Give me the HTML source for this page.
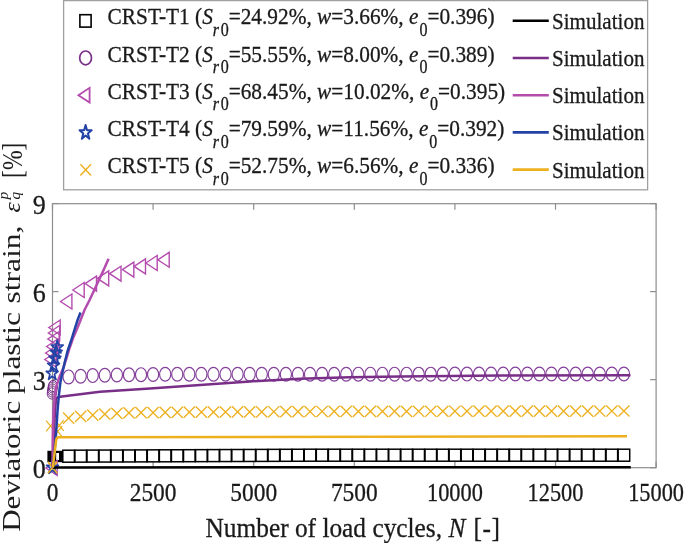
<!DOCTYPE html>
<html><head><meta charset="utf-8"><style>html,body{margin:0;padding:0;background:#fff;}svg{display:block;}text{stroke:#1a1a1a;stroke-width:0.3px;}g.ny text{stroke:none;}</style></head>
<body><svg width="685" height="543" viewBox="0 0 685 543" font-family='"Liberation Serif", "Times New Roman", serif'><g>
<rect x="52.5" y="203.7" width="603.6" height="264" fill="#fff" stroke="#8e8e8e" stroke-width="1.2"/>
<line x1="52.50" y1="467.7" x2="52.50" y2="461.7" stroke="#8e8e8e" stroke-width="1.2"/>
<line x1="52.50" y1="203.7" x2="52.50" y2="209.7" stroke="#8e8e8e" stroke-width="1.2"/>
<line x1="153.10" y1="467.7" x2="153.10" y2="461.7" stroke="#8e8e8e" stroke-width="1.2"/>
<line x1="153.10" y1="203.7" x2="153.10" y2="209.7" stroke="#8e8e8e" stroke-width="1.2"/>
<line x1="253.70" y1="467.7" x2="253.70" y2="461.7" stroke="#8e8e8e" stroke-width="1.2"/>
<line x1="253.70" y1="203.7" x2="253.70" y2="209.7" stroke="#8e8e8e" stroke-width="1.2"/>
<line x1="354.30" y1="467.7" x2="354.30" y2="461.7" stroke="#8e8e8e" stroke-width="1.2"/>
<line x1="354.30" y1="203.7" x2="354.30" y2="209.7" stroke="#8e8e8e" stroke-width="1.2"/>
<line x1="454.90" y1="467.7" x2="454.90" y2="461.7" stroke="#8e8e8e" stroke-width="1.2"/>
<line x1="454.90" y1="203.7" x2="454.90" y2="209.7" stroke="#8e8e8e" stroke-width="1.2"/>
<line x1="555.50" y1="467.7" x2="555.50" y2="461.7" stroke="#8e8e8e" stroke-width="1.2"/>
<line x1="555.50" y1="203.7" x2="555.50" y2="209.7" stroke="#8e8e8e" stroke-width="1.2"/>
<line x1="656.10" y1="467.7" x2="656.10" y2="461.7" stroke="#8e8e8e" stroke-width="1.2"/>
<line x1="656.10" y1="203.7" x2="656.10" y2="209.7" stroke="#8e8e8e" stroke-width="1.2"/>
<line x1="52.5" y1="467.70" x2="58.5" y2="467.70" stroke="#8e8e8e" stroke-width="1.2"/>
<line x1="656.1" y1="467.70" x2="650.1" y2="467.70" stroke="#8e8e8e" stroke-width="1.2"/>
<line x1="52.5" y1="379.65" x2="58.5" y2="379.65" stroke="#8e8e8e" stroke-width="1.2"/>
<line x1="656.1" y1="379.65" x2="650.1" y2="379.65" stroke="#8e8e8e" stroke-width="1.2"/>
<line x1="52.5" y1="291.60" x2="58.5" y2="291.60" stroke="#8e8e8e" stroke-width="1.2"/>
<line x1="656.1" y1="291.60" x2="650.1" y2="291.60" stroke="#8e8e8e" stroke-width="1.2"/>
<line x1="52.5" y1="203.55" x2="58.5" y2="203.55" stroke="#8e8e8e" stroke-width="1.2"/>
<line x1="656.1" y1="203.55" x2="650.1" y2="203.55" stroke="#8e8e8e" stroke-width="1.2"/>
<rect x="47.4" y="450.8" width="15.5" height="11.4" fill="#000"/>
<rect x="56.2" y="453.0" width="2.8" height="7.0" fill="#fff"/>
<rect x="62.80" y="450.20" width="11.60" height="12.00" fill="none" stroke="#000000" stroke-width="1.5"/>
<rect x="74.87" y="450.15" width="11.60" height="12.00" fill="none" stroke="#000000" stroke-width="1.5"/>
<rect x="86.94" y="450.10" width="11.60" height="12.00" fill="none" stroke="#000000" stroke-width="1.5"/>
<rect x="99.01" y="450.05" width="11.60" height="12.00" fill="none" stroke="#000000" stroke-width="1.5"/>
<rect x="111.08" y="450.00" width="11.60" height="12.00" fill="none" stroke="#000000" stroke-width="1.5"/>
<rect x="123.16" y="449.95" width="11.60" height="12.00" fill="none" stroke="#000000" stroke-width="1.5"/>
<rect x="135.23" y="449.90" width="11.60" height="12.00" fill="none" stroke="#000000" stroke-width="1.5"/>
<rect x="147.30" y="449.85" width="11.60" height="12.00" fill="none" stroke="#000000" stroke-width="1.5"/>
<rect x="159.37" y="449.80" width="11.60" height="12.00" fill="none" stroke="#000000" stroke-width="1.5"/>
<rect x="171.44" y="449.75" width="11.60" height="12.00" fill="none" stroke="#000000" stroke-width="1.5"/>
<rect x="183.52" y="449.70" width="11.60" height="12.00" fill="none" stroke="#000000" stroke-width="1.5"/>
<rect x="195.59" y="449.65" width="11.60" height="12.00" fill="none" stroke="#000000" stroke-width="1.5"/>
<rect x="207.66" y="449.60" width="11.60" height="12.00" fill="none" stroke="#000000" stroke-width="1.5"/>
<rect x="219.73" y="449.55" width="11.60" height="12.00" fill="none" stroke="#000000" stroke-width="1.5"/>
<rect x="231.80" y="449.50" width="11.60" height="12.00" fill="none" stroke="#000000" stroke-width="1.5"/>
<rect x="243.88" y="449.45" width="11.60" height="12.00" fill="none" stroke="#000000" stroke-width="1.5"/>
<rect x="255.95" y="449.40" width="11.60" height="12.00" fill="none" stroke="#000000" stroke-width="1.5"/>
<rect x="268.02" y="449.35" width="11.60" height="12.00" fill="none" stroke="#000000" stroke-width="1.5"/>
<rect x="280.09" y="449.30" width="11.60" height="12.00" fill="none" stroke="#000000" stroke-width="1.5"/>
<rect x="292.16" y="449.25" width="11.60" height="12.00" fill="none" stroke="#000000" stroke-width="1.5"/>
<rect x="304.24" y="449.20" width="11.60" height="12.00" fill="none" stroke="#000000" stroke-width="1.5"/>
<rect x="316.31" y="449.20" width="11.60" height="12.00" fill="none" stroke="#000000" stroke-width="1.5"/>
<rect x="328.38" y="449.20" width="11.60" height="12.00" fill="none" stroke="#000000" stroke-width="1.5"/>
<rect x="340.45" y="449.20" width="11.60" height="12.00" fill="none" stroke="#000000" stroke-width="1.5"/>
<rect x="352.52" y="449.20" width="11.60" height="12.00" fill="none" stroke="#000000" stroke-width="1.5"/>
<rect x="364.60" y="449.20" width="11.60" height="12.00" fill="none" stroke="#000000" stroke-width="1.5"/>
<rect x="376.67" y="449.20" width="11.60" height="12.00" fill="none" stroke="#000000" stroke-width="1.5"/>
<rect x="388.74" y="449.20" width="11.60" height="12.00" fill="none" stroke="#000000" stroke-width="1.5"/>
<rect x="400.81" y="449.20" width="11.60" height="12.00" fill="none" stroke="#000000" stroke-width="1.5"/>
<rect x="412.88" y="449.20" width="11.60" height="12.00" fill="none" stroke="#000000" stroke-width="1.5"/>
<rect x="424.96" y="449.20" width="11.60" height="12.00" fill="none" stroke="#000000" stroke-width="1.5"/>
<rect x="437.03" y="449.20" width="11.60" height="12.00" fill="none" stroke="#000000" stroke-width="1.5"/>
<rect x="449.10" y="449.20" width="11.60" height="12.00" fill="none" stroke="#000000" stroke-width="1.5"/>
<rect x="461.17" y="449.20" width="11.60" height="12.00" fill="none" stroke="#000000" stroke-width="1.5"/>
<rect x="473.24" y="449.20" width="11.60" height="12.00" fill="none" stroke="#000000" stroke-width="1.5"/>
<rect x="485.32" y="449.20" width="11.60" height="12.00" fill="none" stroke="#000000" stroke-width="1.5"/>
<rect x="497.39" y="449.20" width="11.60" height="12.00" fill="none" stroke="#000000" stroke-width="1.5"/>
<rect x="509.46" y="449.20" width="11.60" height="12.00" fill="none" stroke="#000000" stroke-width="1.5"/>
<rect x="521.53" y="449.20" width="11.60" height="12.00" fill="none" stroke="#000000" stroke-width="1.5"/>
<rect x="533.60" y="449.20" width="11.60" height="12.00" fill="none" stroke="#000000" stroke-width="1.5"/>
<rect x="545.68" y="449.20" width="11.60" height="12.00" fill="none" stroke="#000000" stroke-width="1.5"/>
<rect x="557.75" y="449.20" width="11.60" height="12.00" fill="none" stroke="#000000" stroke-width="1.5"/>
<rect x="569.82" y="449.20" width="11.60" height="12.00" fill="none" stroke="#000000" stroke-width="1.5"/>
<rect x="581.89" y="449.20" width="11.60" height="12.00" fill="none" stroke="#000000" stroke-width="1.5"/>
<rect x="593.96" y="449.20" width="11.60" height="12.00" fill="none" stroke="#000000" stroke-width="1.5"/>
<rect x="606.04" y="449.20" width="11.60" height="12.00" fill="none" stroke="#000000" stroke-width="1.5"/>
<rect x="618.11" y="449.20" width="11.60" height="12.00" fill="none" stroke="#000000" stroke-width="1.5"/>
<ellipse cx="51.80" cy="393.50" rx="4.6" ry="5.6" fill="none" stroke="#792F88" stroke-width="1.0"/>
<ellipse cx="52.10" cy="391.50" rx="4.6" ry="5.6" fill="none" stroke="#792F88" stroke-width="1.0"/>
<ellipse cx="52.40" cy="389.50" rx="4.6" ry="5.6" fill="none" stroke="#792F88" stroke-width="1.0"/>
<ellipse cx="52.70" cy="387.50" rx="4.6" ry="5.6" fill="none" stroke="#792F88" stroke-width="1.0"/>
<ellipse cx="53.00" cy="386.00" rx="4.6" ry="5.6" fill="none" stroke="#792F88" stroke-width="1.0"/>
<ellipse cx="68.60" cy="376.90" rx="5.6" ry="6.9" fill="none" stroke="#84409A" stroke-width="1.2"/>
<ellipse cx="80.67" cy="376.20" rx="5.6" ry="6.9" fill="none" stroke="#84409A" stroke-width="1.2"/>
<ellipse cx="92.74" cy="375.60" rx="5.6" ry="6.9" fill="none" stroke="#84409A" stroke-width="1.2"/>
<ellipse cx="104.81" cy="375.30" rx="5.6" ry="6.9" fill="none" stroke="#84409A" stroke-width="1.2"/>
<ellipse cx="116.88" cy="375.00" rx="5.6" ry="6.9" fill="none" stroke="#84409A" stroke-width="1.2"/>
<ellipse cx="128.96" cy="374.82" rx="5.6" ry="6.9" fill="none" stroke="#84409A" stroke-width="1.2"/>
<ellipse cx="141.03" cy="374.65" rx="5.6" ry="6.9" fill="none" stroke="#84409A" stroke-width="1.2"/>
<ellipse cx="153.10" cy="374.48" rx="5.6" ry="6.9" fill="none" stroke="#84409A" stroke-width="1.2"/>
<ellipse cx="165.17" cy="374.30" rx="5.6" ry="6.9" fill="none" stroke="#84409A" stroke-width="1.2"/>
<ellipse cx="177.24" cy="374.29" rx="5.6" ry="6.9" fill="none" stroke="#84409A" stroke-width="1.2"/>
<ellipse cx="189.32" cy="374.28" rx="5.6" ry="6.9" fill="none" stroke="#84409A" stroke-width="1.2"/>
<ellipse cx="201.39" cy="374.28" rx="5.6" ry="6.9" fill="none" stroke="#84409A" stroke-width="1.2"/>
<ellipse cx="213.46" cy="374.27" rx="5.6" ry="6.9" fill="none" stroke="#84409A" stroke-width="1.2"/>
<ellipse cx="225.53" cy="374.26" rx="5.6" ry="6.9" fill="none" stroke="#84409A" stroke-width="1.2"/>
<ellipse cx="237.60" cy="374.25" rx="5.6" ry="6.9" fill="none" stroke="#84409A" stroke-width="1.2"/>
<ellipse cx="249.68" cy="374.24" rx="5.6" ry="6.9" fill="none" stroke="#84409A" stroke-width="1.2"/>
<ellipse cx="261.75" cy="374.24" rx="5.6" ry="6.9" fill="none" stroke="#84409A" stroke-width="1.2"/>
<ellipse cx="273.82" cy="374.23" rx="5.6" ry="6.9" fill="none" stroke="#84409A" stroke-width="1.2"/>
<ellipse cx="285.89" cy="374.22" rx="5.6" ry="6.9" fill="none" stroke="#84409A" stroke-width="1.2"/>
<ellipse cx="297.96" cy="374.21" rx="5.6" ry="6.9" fill="none" stroke="#84409A" stroke-width="1.2"/>
<ellipse cx="310.04" cy="374.21" rx="5.6" ry="6.9" fill="none" stroke="#84409A" stroke-width="1.2"/>
<ellipse cx="322.11" cy="374.20" rx="5.6" ry="6.9" fill="none" stroke="#84409A" stroke-width="1.2"/>
<ellipse cx="334.18" cy="374.19" rx="5.6" ry="6.9" fill="none" stroke="#84409A" stroke-width="1.2"/>
<ellipse cx="346.25" cy="374.18" rx="5.6" ry="6.9" fill="none" stroke="#84409A" stroke-width="1.2"/>
<ellipse cx="358.32" cy="374.17" rx="5.6" ry="6.9" fill="none" stroke="#84409A" stroke-width="1.2"/>
<ellipse cx="370.40" cy="374.17" rx="5.6" ry="6.9" fill="none" stroke="#84409A" stroke-width="1.2"/>
<ellipse cx="382.47" cy="374.16" rx="5.6" ry="6.9" fill="none" stroke="#84409A" stroke-width="1.2"/>
<ellipse cx="394.54" cy="374.15" rx="5.6" ry="6.9" fill="none" stroke="#84409A" stroke-width="1.2"/>
<ellipse cx="406.61" cy="374.14" rx="5.6" ry="6.9" fill="none" stroke="#84409A" stroke-width="1.2"/>
<ellipse cx="418.68" cy="374.13" rx="5.6" ry="6.9" fill="none" stroke="#84409A" stroke-width="1.2"/>
<ellipse cx="430.76" cy="374.13" rx="5.6" ry="6.9" fill="none" stroke="#84409A" stroke-width="1.2"/>
<ellipse cx="442.83" cy="374.12" rx="5.6" ry="6.9" fill="none" stroke="#84409A" stroke-width="1.2"/>
<ellipse cx="454.90" cy="374.11" rx="5.6" ry="6.9" fill="none" stroke="#84409A" stroke-width="1.2"/>
<ellipse cx="466.97" cy="374.10" rx="5.6" ry="6.9" fill="none" stroke="#84409A" stroke-width="1.2"/>
<ellipse cx="479.04" cy="374.09" rx="5.6" ry="6.9" fill="none" stroke="#84409A" stroke-width="1.2"/>
<ellipse cx="491.12" cy="374.09" rx="5.6" ry="6.9" fill="none" stroke="#84409A" stroke-width="1.2"/>
<ellipse cx="503.19" cy="374.08" rx="5.6" ry="6.9" fill="none" stroke="#84409A" stroke-width="1.2"/>
<ellipse cx="515.26" cy="374.07" rx="5.6" ry="6.9" fill="none" stroke="#84409A" stroke-width="1.2"/>
<ellipse cx="527.33" cy="374.06" rx="5.6" ry="6.9" fill="none" stroke="#84409A" stroke-width="1.2"/>
<ellipse cx="539.40" cy="374.06" rx="5.6" ry="6.9" fill="none" stroke="#84409A" stroke-width="1.2"/>
<ellipse cx="551.48" cy="374.05" rx="5.6" ry="6.9" fill="none" stroke="#84409A" stroke-width="1.2"/>
<ellipse cx="563.55" cy="374.04" rx="5.6" ry="6.9" fill="none" stroke="#84409A" stroke-width="1.2"/>
<ellipse cx="575.62" cy="374.03" rx="5.6" ry="6.9" fill="none" stroke="#84409A" stroke-width="1.2"/>
<ellipse cx="587.69" cy="374.02" rx="5.6" ry="6.9" fill="none" stroke="#84409A" stroke-width="1.2"/>
<ellipse cx="599.76" cy="374.02" rx="5.6" ry="6.9" fill="none" stroke="#84409A" stroke-width="1.2"/>
<ellipse cx="611.84" cy="374.01" rx="5.6" ry="6.9" fill="none" stroke="#84409A" stroke-width="1.2"/>
<ellipse cx="623.91" cy="374.00" rx="5.6" ry="6.9" fill="none" stroke="#84409A" stroke-width="1.2"/>
<polygon points="48.80,327.50 60.20,320.00 60.20,335.00" fill="none" stroke="#B44CAE" stroke-width="1.4" stroke-linejoin="miter"/>
<polygon points="48.30,333.00 59.70,325.50 59.70,340.50" fill="none" stroke="#B44CAE" stroke-width="1.4" stroke-linejoin="miter"/>
<polygon points="47.80,339.00 59.20,331.50 59.20,346.50" fill="none" stroke="#B44CAE" stroke-width="1.4" stroke-linejoin="miter"/>
<polygon points="46.60,346.50 58.00,339.00 58.00,354.00" fill="none" stroke="#B44CAE" stroke-width="1.4" stroke-linejoin="miter"/>
<polygon points="45.60,353.00 57.00,345.50 57.00,360.50" fill="none" stroke="#B44CAE" stroke-width="1.4" stroke-linejoin="miter"/>
<polygon points="44.80,359.50 56.20,352.00 56.20,367.00" fill="none" stroke="#B44CAE" stroke-width="1.4" stroke-linejoin="miter"/>
<polygon points="60.50,301.50 71.90,294.00 71.90,309.00" fill="none" stroke="#B44CAE" stroke-width="1.4" stroke-linejoin="miter"/>
<polygon points="72.80,290.00 84.20,282.50 84.20,297.50" fill="none" stroke="#B44CAE" stroke-width="1.4" stroke-linejoin="miter"/>
<polygon points="85.10,283.60 96.50,276.10 96.50,291.10" fill="none" stroke="#B44CAE" stroke-width="1.4" stroke-linejoin="miter"/>
<polygon points="97.30,278.40 108.70,270.90 108.70,285.90" fill="none" stroke="#B44CAE" stroke-width="1.4" stroke-linejoin="miter"/>
<polygon points="109.60,273.70 121.00,266.20 121.00,281.20" fill="none" stroke="#B44CAE" stroke-width="1.4" stroke-linejoin="miter"/>
<polygon points="122.40,269.60 133.80,262.10 133.80,277.10" fill="none" stroke="#B44CAE" stroke-width="1.4" stroke-linejoin="miter"/>
<polygon points="134.10,266.40 145.50,258.90 145.50,273.90" fill="none" stroke="#B44CAE" stroke-width="1.4" stroke-linejoin="miter"/>
<polygon points="145.80,263.00 157.20,255.50 157.20,270.50" fill="none" stroke="#B44CAE" stroke-width="1.4" stroke-linejoin="miter"/>
<polygon points="157.80,259.80 169.20,252.30 169.20,267.30" fill="none" stroke="#B44CAE" stroke-width="1.4" stroke-linejoin="miter"/>
<polygon points="52.20,366.30 53.58,371.29 58.09,371.28 54.44,374.35 55.84,379.32 52.20,376.24 48.56,379.32 49.96,374.35 46.31,371.28 50.82,371.29" fill="none" stroke="#2342A6" stroke-width="1.7" stroke-linejoin="round"/>
<polygon points="53.60,358.30 54.98,363.29 59.49,363.28 55.84,366.35 57.24,371.32 53.60,368.24 49.96,371.32 51.36,366.35 47.71,363.28 52.22,363.29" fill="none" stroke="#2342A6" stroke-width="1.7" stroke-linejoin="round"/>
<polygon points="55.00,351.30 56.38,356.29 60.89,356.28 57.24,359.35 58.64,364.32 55.00,361.24 51.36,364.32 52.76,359.35 49.11,356.28 53.62,356.29" fill="none" stroke="#2342A6" stroke-width="1.7" stroke-linejoin="round"/>
<polygon points="56.20,345.30 57.58,350.29 62.09,350.28 58.44,353.35 59.84,358.32 56.20,355.24 52.56,358.32 53.96,353.35 50.31,350.28 54.82,350.29" fill="none" stroke="#2342A6" stroke-width="1.7" stroke-linejoin="round"/>
<polygon points="57.30,340.00 58.68,344.99 63.19,344.98 59.54,348.05 60.94,353.02 57.30,349.94 53.66,353.02 55.06,348.05 51.41,344.98 55.92,344.99" fill="none" stroke="#2342A6" stroke-width="1.7" stroke-linejoin="round"/>
<path d="M46.10,420.60L54.90,431.40M46.10,431.40L54.90,420.60" stroke="#EDB120" stroke-width="1.2" fill="none"/>
<path d="M54.90,420.10L63.70,430.90M54.90,430.90L63.70,420.10" stroke="#EDB120" stroke-width="1.2" fill="none"/>
<path d="M53.40,426.10L62.20,436.90M53.40,436.90L62.20,426.10" stroke="#EDB120" stroke-width="1.2" fill="none"/>
<path d="M63.00,412.50L74.20,423.70M63.00,423.70L74.20,412.50" stroke="#EDB120" stroke-width="1.35" fill="none"/>
<path d="M75.07,410.70L86.27,421.90M75.07,421.90L86.27,410.70" stroke="#EDB120" stroke-width="1.35" fill="none"/>
<path d="M87.14,409.60L98.34,420.80M87.14,420.80L98.34,409.60" stroke="#EDB120" stroke-width="1.35" fill="none"/>
<path d="M99.21,408.50L110.41,419.70M99.21,419.70L110.41,408.50" stroke="#EDB120" stroke-width="1.35" fill="none"/>
<path d="M111.28,407.80L122.48,419.00M111.28,419.00L122.48,407.80" stroke="#EDB120" stroke-width="1.35" fill="none"/>
<path d="M123.36,407.20L134.56,418.40M123.36,418.40L134.56,407.20" stroke="#EDB120" stroke-width="1.35" fill="none"/>
<path d="M135.43,407.08L146.63,418.28M135.43,418.28L146.63,407.08" stroke="#EDB120" stroke-width="1.35" fill="none"/>
<path d="M147.50,406.96L158.70,418.16M147.50,418.16L158.70,406.96" stroke="#EDB120" stroke-width="1.35" fill="none"/>
<path d="M159.57,406.84L170.77,418.04M159.57,418.04L170.77,406.84" stroke="#EDB120" stroke-width="1.35" fill="none"/>
<path d="M171.64,406.72L182.84,417.92M171.64,417.92L182.84,406.72" stroke="#EDB120" stroke-width="1.35" fill="none"/>
<path d="M183.72,406.60L194.92,417.80M183.72,417.80L194.92,406.60" stroke="#EDB120" stroke-width="1.35" fill="none"/>
<path d="M195.79,406.53L206.99,417.73M195.79,417.73L206.99,406.53" stroke="#EDB120" stroke-width="1.35" fill="none"/>
<path d="M207.86,406.47L219.06,417.67M207.86,417.67L219.06,406.47" stroke="#EDB120" stroke-width="1.35" fill="none"/>
<path d="M219.93,406.40L231.13,417.60M219.93,417.60L231.13,406.40" stroke="#EDB120" stroke-width="1.35" fill="none"/>
<path d="M232.00,406.33L243.20,417.53M232.00,417.53L243.20,406.33" stroke="#EDB120" stroke-width="1.35" fill="none"/>
<path d="M244.08,406.27L255.28,417.47M244.08,417.47L255.28,406.27" stroke="#EDB120" stroke-width="1.35" fill="none"/>
<path d="M256.15,406.20L267.35,417.40M256.15,417.40L267.35,406.20" stroke="#EDB120" stroke-width="1.35" fill="none"/>
<path d="M268.22,406.13L279.42,417.33M268.22,417.33L279.42,406.13" stroke="#EDB120" stroke-width="1.35" fill="none"/>
<path d="M280.29,406.07L291.49,417.27M280.29,417.27L291.49,406.07" stroke="#EDB120" stroke-width="1.35" fill="none"/>
<path d="M292.36,406.00L303.56,417.20M292.36,417.20L303.56,406.00" stroke="#EDB120" stroke-width="1.35" fill="none"/>
<path d="M304.44,405.93L315.64,417.13M304.44,417.13L315.64,405.93" stroke="#EDB120" stroke-width="1.35" fill="none"/>
<path d="M316.51,405.87L327.71,417.07M316.51,417.07L327.71,405.87" stroke="#EDB120" stroke-width="1.35" fill="none"/>
<path d="M328.58,405.80L339.78,417.00M328.58,417.00L339.78,405.80" stroke="#EDB120" stroke-width="1.35" fill="none"/>
<path d="M340.65,405.78L351.85,416.98M340.65,416.98L351.85,405.78" stroke="#EDB120" stroke-width="1.35" fill="none"/>
<path d="M352.72,405.77L363.92,416.97M352.72,416.97L363.92,405.77" stroke="#EDB120" stroke-width="1.35" fill="none"/>
<path d="M364.80,405.75L376.00,416.95M364.80,416.95L376.00,405.75" stroke="#EDB120" stroke-width="1.35" fill="none"/>
<path d="M376.87,405.73L388.07,416.93M376.87,416.93L388.07,405.73" stroke="#EDB120" stroke-width="1.35" fill="none"/>
<path d="M388.94,405.72L400.14,416.92M388.94,416.92L400.14,405.72" stroke="#EDB120" stroke-width="1.35" fill="none"/>
<path d="M401.01,405.70L412.21,416.90M401.01,416.90L412.21,405.70" stroke="#EDB120" stroke-width="1.35" fill="none"/>
<path d="M413.08,405.68L424.28,416.88M413.08,416.88L424.28,405.68" stroke="#EDB120" stroke-width="1.35" fill="none"/>
<path d="M425.16,405.67L436.36,416.87M425.16,416.87L436.36,405.67" stroke="#EDB120" stroke-width="1.35" fill="none"/>
<path d="M437.23,405.65L448.43,416.85M437.23,416.85L448.43,405.65" stroke="#EDB120" stroke-width="1.35" fill="none"/>
<path d="M449.30,405.63L460.50,416.83M449.30,416.83L460.50,405.63" stroke="#EDB120" stroke-width="1.35" fill="none"/>
<path d="M461.37,405.62L472.57,416.82M461.37,416.82L472.57,405.62" stroke="#EDB120" stroke-width="1.35" fill="none"/>
<path d="M473.44,405.60L484.64,416.80M473.44,416.80L484.64,405.60" stroke="#EDB120" stroke-width="1.35" fill="none"/>
<path d="M485.52,405.58L496.72,416.78M485.52,416.78L496.72,405.58" stroke="#EDB120" stroke-width="1.35" fill="none"/>
<path d="M497.59,405.57L508.79,416.77M497.59,416.77L508.79,405.57" stroke="#EDB120" stroke-width="1.35" fill="none"/>
<path d="M509.66,405.55L520.86,416.75M509.66,416.75L520.86,405.55" stroke="#EDB120" stroke-width="1.35" fill="none"/>
<path d="M521.73,405.53L532.93,416.73M521.73,416.73L532.93,405.53" stroke="#EDB120" stroke-width="1.35" fill="none"/>
<path d="M533.80,405.52L545.00,416.72M533.80,416.72L545.00,405.52" stroke="#EDB120" stroke-width="1.35" fill="none"/>
<path d="M545.88,405.50L557.08,416.70M545.88,416.70L557.08,405.50" stroke="#EDB120" stroke-width="1.35" fill="none"/>
<path d="M557.95,405.48L569.15,416.68M557.95,416.68L569.15,405.48" stroke="#EDB120" stroke-width="1.35" fill="none"/>
<path d="M570.02,405.47L581.22,416.67M570.02,416.67L581.22,405.47" stroke="#EDB120" stroke-width="1.35" fill="none"/>
<path d="M582.09,405.45L593.29,416.65M582.09,416.65L593.29,405.45" stroke="#EDB120" stroke-width="1.35" fill="none"/>
<path d="M594.16,405.43L605.36,416.63M594.16,416.63L605.36,405.43" stroke="#EDB120" stroke-width="1.35" fill="none"/>
<path d="M606.24,405.42L617.44,416.62M606.24,416.62L617.44,405.42" stroke="#EDB120" stroke-width="1.35" fill="none"/>
<path d="M618.31,405.40L629.51,416.60M618.31,416.60L629.51,405.40" stroke="#EDB120" stroke-width="1.35" fill="none"/>
<polygon points="45.80,468.00 57.20,460.50 57.20,475.50" fill="none" stroke="#B44CAE" stroke-width="1.4" stroke-linejoin="miter"/>
<polygon points="52.50,460.30 53.88,465.29 58.39,465.28 54.74,468.35 56.14,473.32 52.50,470.24 48.86,473.32 50.26,468.35 46.61,465.28 51.12,465.29" fill="none" stroke="#2342A6" stroke-width="1.7" stroke-linejoin="round"/>
<path d="M47.90,461.70L57.10,473.30M47.90,473.30L57.10,461.70" stroke="#EDB120" stroke-width="1.5" fill="none"/>
<polyline points="52.75,467.70 54.50,467.40 630.80,467.30" fill="none" stroke="#000000" stroke-width="2.5" stroke-linejoin="round" stroke-linecap="butt"/>
<polyline points="52.75,467.70 54.50,420.00 56.00,398.00 60.00,396.80 100.00,391.70 150.00,388.40 200.00,385.00 250.00,381.40 300.00,378.80 350.00,377.30 400.00,376.40 450.00,375.90 500.00,375.60 630.50,375.30" fill="none" stroke="#792F88" stroke-width="2.5" stroke-linejoin="round" stroke-linecap="butt"/>
<polyline points="52.60,467.70 52.70,445.00 53.00,425.00 53.60,410.00 54.60,398.00 56.00,388.00 59.00,378.00 63.30,368.00 66.50,358.00 69.60,348.00 73.10,338.00 77.40,328.00 81.40,318.00 84.50,310.00 89.60,300.00 96.60,285.00 103.60,270.00 108.60,258.70" fill="none" stroke="#B44CAE" stroke-width="2.5" stroke-linejoin="round" stroke-linecap="butt"/>
<polyline points="52.75,467.70 54.70,450.00 56.30,430.00 57.60,410.00 58.90,395.00 60.30,383.00 62.30,373.00 64.80,362.00 67.60,351.00 71.00,341.00 74.40,330.00 77.60,320.00 80.50,312.50" fill="none" stroke="#2342A6" stroke-width="2.5" stroke-linejoin="round" stroke-linecap="butt"/>
<polyline points="52.75,467.70 56.20,440.00 57.00,437.80 59.00,437.20 627.00,436.30" fill="none" stroke="#EDB120" stroke-width="2.5" stroke-linejoin="round" stroke-linecap="butt"/>
<text x="0" y="0" text-anchor="end" font-size="28" fill="#1a1a1a" transform="translate(45.8 477.70) scale(0.93 1)">0</text>
<text x="0" y="0" text-anchor="end" font-size="28" fill="#1a1a1a" transform="translate(45.8 389.65) scale(0.93 1)">3</text>
<text x="0" y="0" text-anchor="end" font-size="28" fill="#1a1a1a" transform="translate(45.8 301.60) scale(0.93 1)">6</text>
<text x="0" y="0" text-anchor="end" font-size="28" fill="#1a1a1a" transform="translate(45.8 213.55) scale(0.93 1)">9</text>
<text x="0" y="0" text-anchor="middle" font-size="26" fill="#1a1a1a" transform="translate(52.50 500.6) scale(0.9 1)">0</text>
<text x="0" y="0" text-anchor="middle" font-size="26" fill="#1a1a1a" transform="translate(153.10 500.6) scale(0.9 1)">2500</text>
<text x="0" y="0" text-anchor="middle" font-size="26" fill="#1a1a1a" transform="translate(253.70 500.6) scale(0.9 1)">5000</text>
<text x="0" y="0" text-anchor="middle" font-size="26" fill="#1a1a1a" transform="translate(354.30 500.6) scale(0.9 1)">7500</text>
<text x="0" y="0" text-anchor="middle" font-size="26" fill="#1a1a1a" transform="translate(454.90 500.6) scale(0.86 1)">10000</text>
<text x="0" y="0" text-anchor="middle" font-size="26" fill="#1a1a1a" transform="translate(555.50 500.6) scale(0.86 1)">12500</text>
<text x="0" y="0" text-anchor="middle" font-size="26" fill="#1a1a1a" transform="translate(656.10 500.6) scale(0.86 1)">15000</text>
<g transform="translate(205.5 537.4) scale(0.906 1)"><text x="0" y="0" font-size="28" fill="#1a1a1a">Number of load cycles, <tspan font-style="italic">N</tspan><tspan dx="1.4" letter-spacing="0.6"> [-]</tspan></text></g>
<g transform="translate(19.7 533) rotate(-90)" font-size="29" fill="#1e1e1e" class="ny">
<text transform="scale(1 0.86)" x="1.2" y="0" textLength="131.0" lengthAdjust="spacingAndGlyphs">Deviatoric</text>
<text transform="scale(1 0.86)" x="139.0" y="0" textLength="82.0" lengthAdjust="spacingAndGlyphs">plastic</text>
<text transform="scale(1 0.86)" x="229.5" y="0" textLength="78.0" lengthAdjust="spacingAndGlyphs">strain,</text>
<text transform="scale(1 0.86)" x="320.5" y="0.5" font-style="italic" font-size="26">ε</text>
<text transform="scale(1 0.9)" x="333.5" y="-12.5" font-style="italic" font-size="15.5">p</text>
<text transform="scale(1 0.9)" x="333.5" y="0.6" font-style="italic" font-size="15.5">q</text>
<text transform="scale(1 1.0)" x="355" y="2.3" textLength="35.5" lengthAdjust="spacingAndGlyphs">[%]</text>
</g>
<rect x="63.6" y="0.6" width="584" height="189.2" fill="#fff" stroke="#a0a0a0" stroke-width="1.3"/>
<g transform="translate(107.6 24.40) scale(0.889 1)"><text x="0" y="0" font-size="24" fill="#1a1a1a">CRST-T1 (<tspan font-style="italic">S</tspan><tspan font-size="18" dy="11.6"><tspan font-style="italic">r</tspan><tspan dx="1.8">0</tspan></tspan><tspan dy="-11.6">=24.92%, </tspan><tspan font-style="italic">w</tspan>=3.66%, <tspan font-style="italic">e</tspan><tspan font-size="18" dx="1" dy="11.6">0</tspan><tspan dy="-11.6">=0.396)</tspan></text></g>
<line x1="512.7" y1="20.80" x2="548.8" y2="20.80" stroke="#000000" stroke-width="2.6"/>
<g transform="translate(552.0 28.70) scale(0.878 1)"><text x="0" y="0" font-size="24" fill="#1a1a1a">Simulation</text></g>
<g transform="translate(107.6 61.60) scale(0.889 1)"><text x="0" y="0" font-size="24" fill="#1a1a1a">CRST-T2 (<tspan font-style="italic">S</tspan><tspan font-size="18" dy="11.6"><tspan font-style="italic">r</tspan><tspan dx="1.8">0</tspan></tspan><tspan dy="-11.6">=55.55%, </tspan><tspan font-style="italic">w</tspan>=8.00%, <tspan font-style="italic">e</tspan><tspan font-size="18" dx="1" dy="11.6">0</tspan><tspan dy="-11.6">=0.389)</tspan></text></g>
<line x1="512.7" y1="58.00" x2="548.8" y2="58.00" stroke="#792F88" stroke-width="2.6"/>
<g transform="translate(552.0 65.90) scale(0.878 1)"><text x="0" y="0" font-size="24" fill="#1a1a1a">Simulation</text></g>
<g transform="translate(107.6 98.80) scale(0.889 1)"><text x="0" y="0" font-size="24" fill="#1a1a1a">CRST-T3 (<tspan font-style="italic">S</tspan><tspan font-size="18" dy="11.6"><tspan font-style="italic">r</tspan><tspan dx="1.8">0</tspan></tspan><tspan dy="-11.6">=68.45%, </tspan><tspan font-style="italic">w</tspan>=10.02%, <tspan font-style="italic">e</tspan><tspan font-size="18" dx="1" dy="11.6">0</tspan><tspan dy="-11.6">=0.395)</tspan></text></g>
<line x1="512.7" y1="95.20" x2="548.8" y2="95.20" stroke="#B44CAE" stroke-width="2.6"/>
<g transform="translate(552.0 103.10) scale(0.878 1)"><text x="0" y="0" font-size="24" fill="#1a1a1a">Simulation</text></g>
<g transform="translate(107.6 136.00) scale(0.889 1)"><text x="0" y="0" font-size="24" fill="#1a1a1a">CRST-T4 (<tspan font-style="italic">S</tspan><tspan font-size="18" dy="11.6"><tspan font-style="italic">r</tspan><tspan dx="1.8">0</tspan></tspan><tspan dy="-11.6">=79.59%, </tspan><tspan font-style="italic">w</tspan>=11.56%, <tspan font-style="italic">e</tspan><tspan font-size="18" dx="1" dy="11.6">0</tspan><tspan dy="-11.6">=0.392)</tspan></text></g>
<line x1="512.7" y1="132.40" x2="548.8" y2="132.40" stroke="#2342A6" stroke-width="2.6"/>
<g transform="translate(552.0 140.30) scale(0.878 1)"><text x="0" y="0" font-size="24" fill="#1a1a1a">Simulation</text></g>
<g transform="translate(107.6 173.20) scale(0.889 1)"><text x="0" y="0" font-size="24" fill="#1a1a1a">CRST-T5 (<tspan font-style="italic">S</tspan><tspan font-size="18" dy="11.6"><tspan font-style="italic">r</tspan><tspan dx="1.8">0</tspan></tspan><tspan dy="-11.6">=52.75%, </tspan><tspan font-style="italic">w</tspan>=6.56%, <tspan font-style="italic">e</tspan><tspan font-size="18" dx="1" dy="11.6">0</tspan><tspan dy="-11.6">=0.336)</tspan></text></g>
<line x1="512.7" y1="169.60" x2="548.8" y2="169.60" stroke="#EDB120" stroke-width="2.6"/>
<g transform="translate(552.0 177.50) scale(0.878 1)"><text x="0" y="0" font-size="24" fill="#1a1a1a">Simulation</text></g>
<rect x="79.90" y="14.70" width="11.20" height="12.40" fill="none" stroke="#000000" stroke-width="1.6"/>
<ellipse cx="85.60" cy="57.90" rx="5.9" ry="6.9" fill="none" stroke="#792F88" stroke-width="1.7"/>
<polygon points="78.4,95.2 89.6,87.8 89.6,102.5" fill="none" stroke="#B44CAE" stroke-width="1.8"/>
<polygon points="85.60,125.00 87.03,130.26 91.67,130.25 87.91,133.49 89.35,138.75 85.60,135.49 81.85,138.75 83.29,133.49 79.53,130.25 84.17,130.26" fill="none" stroke="#2342A6" stroke-width="2.0" stroke-linejoin="round"/>
<path d="M80.40,164.20L91.00,175.40M80.40,175.40L91.00,164.20" stroke="#EDB120" stroke-width="1.45" fill="none"/>
</g></svg></body></html>
